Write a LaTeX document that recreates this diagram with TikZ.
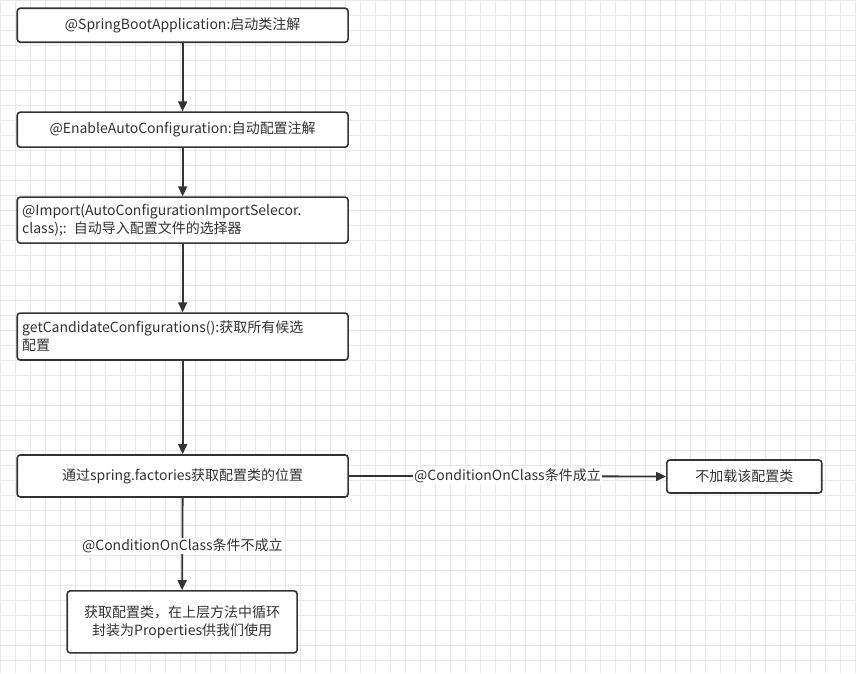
\documentclass[tikz,border=0pt]{standalone}
\usepackage{fontspec}
\setmainfont{Noto Sans CJK SC}
\usetikzlibrary{arrows.meta}
\begin{document}
\begin{tikzpicture}[x=1pt,y=-1pt,
  box/.style={draw=black!80,line width=1.6pt,rounded corners=3pt,fill=white,inner sep=3pt,font=\fontsize{14}{18}\selectfont,text=black!80},
  conn/.style={draw=black!80,line width=1.8pt,-{Triangle[length=10pt,width=9pt]}},
  lab/.style={fill=white,font=\fontsize{14}{16}\selectfont,text=black!80,inner sep=1pt}]
\fill[white] (0,0) rectangle (856,673);
\foreach \i in {0,15,...,855} {\draw[black!9,line width=0.5pt] (\i,0) -- (\i,673);}
\foreach \j in {0,15,...,672} {\draw[black!9,line width=0.5pt] (0,\j) -- (856,\j);}
\useasboundingbox (0,0) rectangle (856,673);
\node[box,minimum width=331pt,minimum height=34pt] (b1) at (182.5,25) {@SpringBootApplication:启动类注解};
\node[box,minimum width=331pt,minimum height=35pt] (b2) at (182.5,129.5) {@EnableAutoConfiguration:自动配置注解};
\node[box,minimum width=331pt,minimum height=46pt,text width=321pt,align=left] (b3) at (182.5,220) {@Import(AutoConfigurationImportSelecor.\\class);: 自动导入配置文件的选择器};
\node[box,minimum width=331pt,minimum height=47pt,text width=321pt,align=left] (b4) at (182.5,336.5) {getCandidateConfigurations():获取所有候选\\配置};
\node[box,minimum width=331pt,minimum height=42pt] (b5) at (182.5,476) {通过spring.factories获取配置类的位置};
\node[box,minimum width=155pt,minimum height=33pt] (b6) at (744.5,476.5) {不加载该配置类};
\node[box,minimum width=230pt,minimum height=62pt,align=center] (b7) at (182,622) {获取配置类，在上层方法中循环\\封装为Properties供我们使用};
\draw[conn] (b1) -- (b2);
\draw[conn] (b2) -- (b3);
\draw[conn] (b3) -- (b4);
\draw[conn] (b4) -- (b5);
\draw[conn] (b5.east) -- node[lab,pos=0.5] {@ConditionOnClass条件成立} (b6.west);
\draw[conn] (b5.south) -- node[lab,pos=0.52] {@ConditionOnClass条件不成立} (b7.north);
\end{tikzpicture}
\end{document}
